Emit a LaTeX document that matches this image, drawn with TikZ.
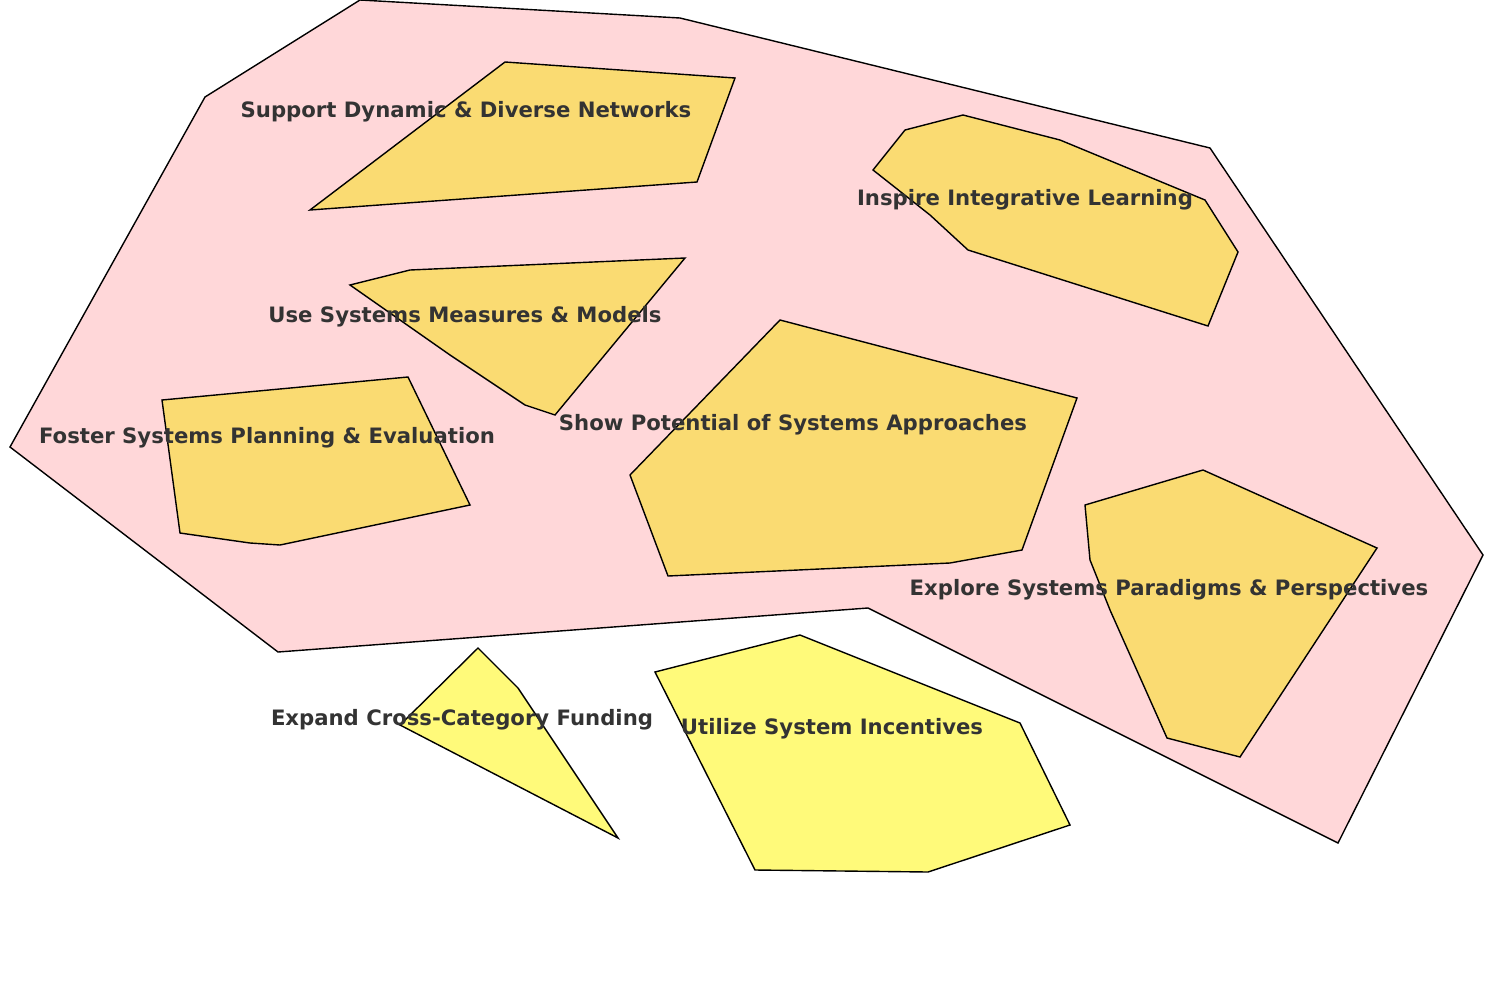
\documentclass[tikz,border=0pt]{standalone}
\usepackage{fontspec}
\setmainfont{DejaVu Sans}
\begin{document}
\begin{tikzpicture}[x=0.5pt,y=-0.5pt,
  blob/.style={draw=black,line width=0.7pt,fill=#1},
  lab/.style={font=\bfseries\fontsize{10.6}{12}\selectfont,text=black!80,inner sep=0pt}]
\definecolor{pinkbg}{HTML}{FFD7D9}
\definecolor{gold}{HTML}{FADB72}
\definecolor{lyel}{HTML}{FFFA7A}
\useasboundingbox (0,0) rectangle (1510,991);
\fill[white] (0,0) rectangle (1510,991);
\draw[blob=pinkbg] (360,0) -- (680,18) -- (1210,148) -- (1483,555) -- (1338,843) -- (868,608) -- (278,652) -- (10,447) -- (205,97) -- cycle;
\draw[blob=gold] (310,210) -- (505,62) -- (735,78) -- (697,182) -- cycle;
\draw[blob=gold] (873,170) -- (905,130) -- (963,115) -- (1060,140) -- (1205,200) -- (1238,252) -- (1208,326) -- (968,250) -- (930,215) -- cycle;
\draw[blob=gold] (350,285) -- (410,270) -- (685,258) -- (555,415) -- (525,405) -- (450,355) -- cycle;
\draw[blob=gold] (162,400) -- (408,377) -- (470,505) -- (280,545) -- (250,543) -- (180,533) -- cycle;
\draw[blob=gold] (630,475) -- (780,320) -- (1077,398) -- (1022,550) -- (950,563) -- (668,576) -- cycle;
\draw[blob=gold] (1085,505) -- (1203,470) -- (1377,548) -- (1240,757) -- (1167,738) -- (1110,610) -- (1090,560) -- cycle;
\draw[blob=lyel] (400,725) -- (478,648) -- (518,688) -- (618,838) -- cycle;
\draw[blob=lyel] (655,672) -- (800,635) -- (1020,723) -- (1070,825) -- (928,872) -- (755,870) -- cycle;
\node[lab] (t1) at (466,112) {Support Dynamic \& Diverse Networks};
\node[lab] (t2) at (1025,200) {Inspire Integrative Learning};
\node[lab] (t3) at (465,317) {Use Systems Measures \& Models};
\node[lab] (t4) at (267,438) {Foster Systems Planning \& Evaluation};
\node[lab] (t5) at (793,425) {Show Potential of Systems Approaches};
\node[lab] (t6) at (1169,590) {Explore Systems Paradigms \& Perspectives};
\node[lab] (t7) at (462,720) {Expand Cross-Category Funding};
\node[lab] (t8) at (832,729) {Utilize System Incentives};
\end{tikzpicture}
\end{document}
